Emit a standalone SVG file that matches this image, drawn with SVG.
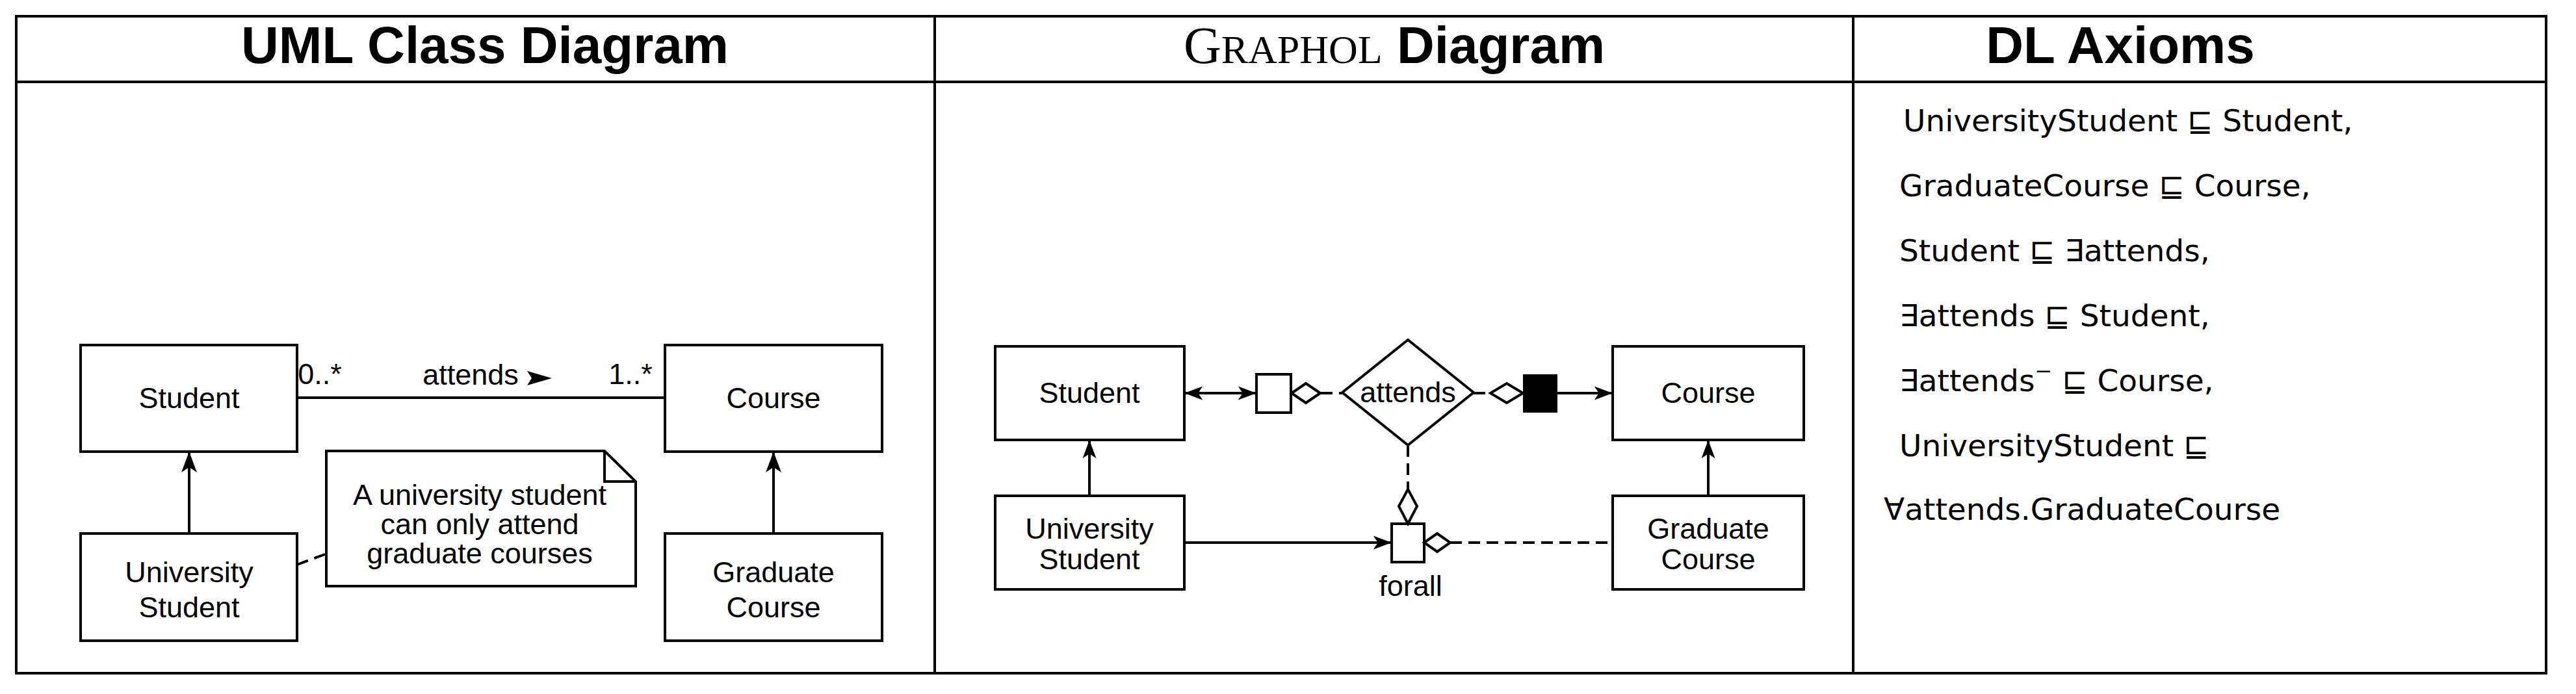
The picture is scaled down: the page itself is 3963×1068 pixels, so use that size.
<svg xmlns="http://www.w3.org/2000/svg" width="3963" height="1068" viewBox="0 0 3963 1068">
<defs>
<style>
.f{fill:#fff;stroke:#000;stroke-width:4}
.l{fill:none;stroke:#000;stroke-width:4}
.d{fill:none;stroke:#000;stroke-width:4;stroke-dasharray:18,10}
.t{font-family:"Liberation Sans",Arial,sans-serif;font-size:45px;text-anchor:middle;fill:#000}
.h{font-family:"Liberation Sans",Arial,sans-serif;font-size:80px;font-weight:bold;text-anchor:middle}
.ax{font-family:"DejaVu Sans",sans-serif;font-size:47px}
</style>
<marker id="a" viewBox="0 0 16 12" refX="15" refY="6" markerWidth="28" markerHeight="21" markerUnits="userSpaceOnUse" orient="auto-start-reverse">
<path d="M0,0 L16,6 L0,12 L4,6 z" fill="#000"/>
</marker>
<marker id="A" viewBox="0 0 16 12" refX="15" refY="6" markerWidth="32" markerHeight="24" markerUnits="userSpaceOnUse" orient="auto-start-reverse">
<path d="M0,0 L16,6 L0,12 L4,6 z" fill="#000"/>
</marker>
</defs>
<rect width="3963" height="1068" fill="#fff"/>
<g id="frame">
<rect x="25" y="25" width="3892" height="1011" class="l" stroke-width="5"/>
<line x1="25" y1="126" x2="3917" y2="126" class="l" stroke-width="5"/>
<line x1="1438" y1="25" x2="1438" y2="1036" class="l" stroke-width="5"/>
<line x1="2851" y1="25" x2="2851" y2="1036" class="l" stroke-width="5"/>
<text class="h" x="746" y="97">UML Class Diagram</text>
<text x="2145" y="97" text-anchor="middle"><tspan font-family="Liberation Serif,serif" font-size="80">G</tspan><tspan font-family="Liberation Serif,serif" font-size="62">RAPHOL</tspan><tspan font-family="Liberation Sans,sans-serif" font-size="80" font-weight="bold"> Diagram</tspan></text>
<text class="h" x="3262" y="97">DL Axioms</text>
</g>
<g id="uml-connectors">
<line x1="457" y1="612" x2="1023" y2="612" class="l"/>
<line x1="291" y1="821" x2="291" y2="697" class="l" marker-end="url(#A)"/>
<line x1="1190" y1="821" x2="1190" y2="697" class="l" marker-end="url(#A)"/>
<line x1="457" y1="869" x2="500" y2="853" class="d"/>
<path d="M811,571 L849,582 L811,593 L818,582 z" fill="#000"/>
</g>
<g id="uml-student"><rect x="124" y="531" width="333" height="164" class="f"/><text class="t" x="291" y="628">Student</text></g>
<g id="uml-course"><rect x="1023" y="531" width="334" height="164" class="f"/><text class="t" x="1190" y="628">Course</text></g>
<g id="uml-univ"><rect x="124" y="821" width="333" height="165" class="f"/><text class="t" x="291" y="896">University</text><text class="t" x="291" y="950">Student</text></g>
<g id="uml-grad"><rect x="1023" y="821" width="334" height="165" class="f"/><text class="t" x="1190" y="896">Graduate</text><text class="t" x="1190" y="950">Course</text></g>
<g id="uml-note"><path d="M502,694 L930,694 L978,741 L978,902 L502,902 z" class="f"/><path d="M930,694 L930,741 L978,741" class="l"/>
<text class="t" font-size="38" x="738" y="777">A university student</text><text class="t" font-size="38" x="738" y="822">can only attend</text><text class="t" font-size="38" x="738" y="867">graduate courses</text></g>
<g id="uml-labels"><text class="t" font-size="30" x="492" y="591">0..*</text><text class="t" font-size="32" x="724" y="592">attends</text><text class="t" font-size="30" x="970" y="591">1..*</text></g>
<g id="graphol-connectors">
<line x1="1824" y1="605" x2="1931" y2="605" class="l" marker-start="url(#a)" marker-end="url(#a)"/>
<line x1="2032" y1="605" x2="2065" y2="605" class="d"/>
<line x1="2267" y1="605" x2="2292" y2="605" class="d"/>
<line x1="2396" y1="605" x2="2479" y2="605" class="l" marker-end="url(#a)"/>
<line x1="2166" y1="685" x2="2166" y2="753" class="d"/>
<line x1="2231" y1="835" x2="2481" y2="835" class="d"/>
<line x1="1822" y1="835" x2="2139" y2="835" class="l" marker-end="url(#a)"/>
<line x1="1676" y1="763" x2="1676" y2="679" class="l" marker-end="url(#a)"/>
<line x1="2628" y1="763" x2="2628" y2="679" class="l" marker-end="url(#a)"/>
</g>
<g id="g-student"><rect x="1531" y="533" width="291" height="144" class="f"/><text class="t" x="1676" y="620">Student</text></g>
<g id="g-course"><rect x="2481" y="533" width="294" height="144" class="f"/><text class="t" x="2628" y="620">Course</text></g>
<g id="g-univ"><rect x="1531" y="763" width="291" height="144" class="f"/><text class="t" x="1676" y="829">University</text><text class="t" x="1676" y="876">Student</text></g>
<g id="g-grad"><rect x="2481" y="763" width="294" height="144" class="f"/><text class="t" x="2628" y="829">Graduate</text><text class="t" x="2628" y="876">Course</text></g>
<g id="g-attends"><path d="M2166,523 L2267,604 L2166,685 L2065,604 z" class="f" stroke-width="3"/><text class="t" x="2166" y="619">attends</text></g>
<g id="g-exists"><rect x="1933" y="576" width="53" height="59" class="f" stroke-width="3"/><path d="M1987,605 L2009,590 L2031,605 L2009,620 z" class="f" stroke-width="3"/></g>
<g id="g-inv"><path d="M2293,605 L2318,590 L2343,605 L2318,620 z" class="f" stroke-width="3"/><rect x="2343" y="576" width="53" height="59" fill="#000"/></g>
<g id="g-forall"><rect x="2141" y="806" width="50" height="59" class="f" stroke-width="3"/><path d="M2166,753 L2180,779 L2166,806 L2152,779 z" class="f" stroke-width="3"/><path d="M2191,835 L2211,821 L2231,835 L2211,849 z" class="f" stroke-width="3"/><text class="t" font-size="34" x="2170" y="917">forall</text></g>
<g id="axioms" class="ax">
<text x="2928" y="202">UniversityStudent ⊑ Student,</text>
<text x="2922" y="302">GraduateCourse ⊑ Course,</text>
<text x="2922" y="402">Student ⊑ ∃attends,</text>
<text x="2922" y="502">∃attends ⊑ Student,</text>
<text x="2922" y="602">∃attends<tspan font-size="32" dy="-20">−</tspan><tspan dy="20"> ⊑ Course,</tspan></text>
<text x="2922" y="702">UniversityStudent ⊑</text>
<text x="2898" y="800">∀attends.GraduateCourse</text>
</g>
</svg>
